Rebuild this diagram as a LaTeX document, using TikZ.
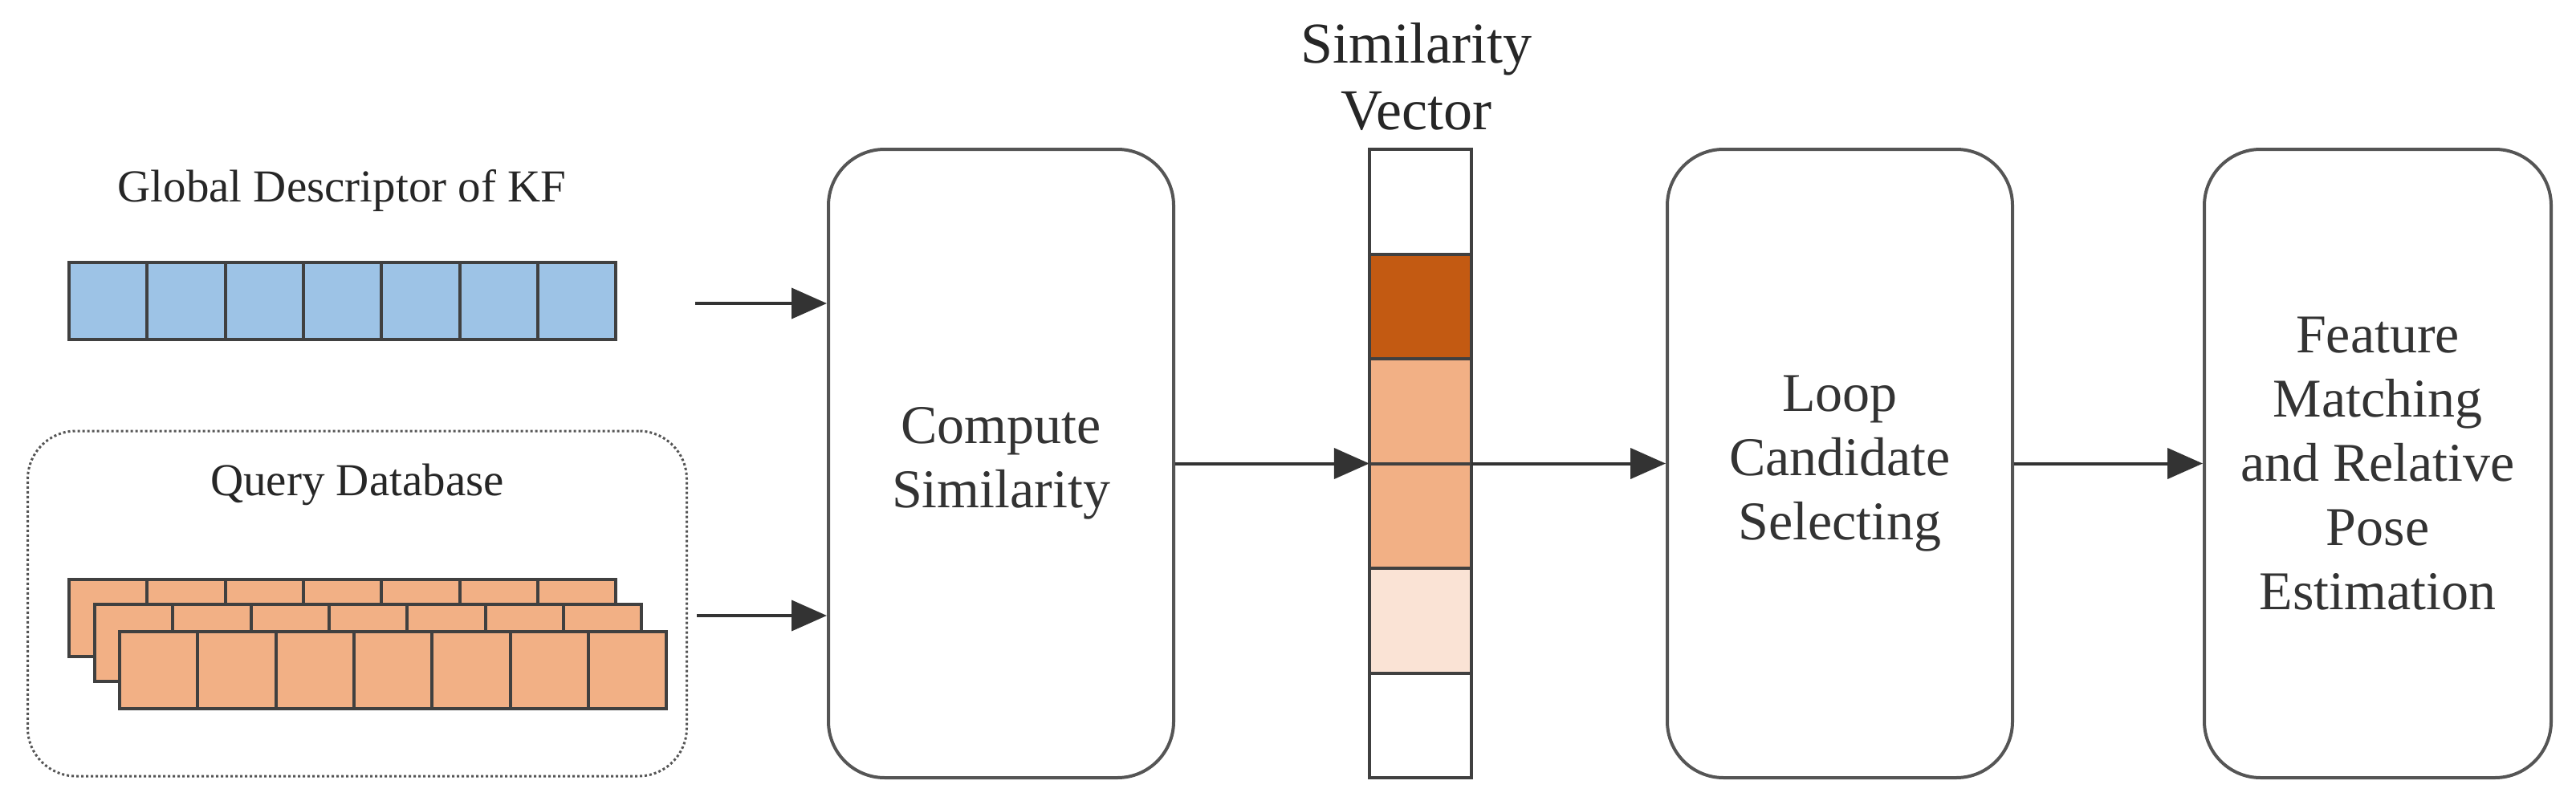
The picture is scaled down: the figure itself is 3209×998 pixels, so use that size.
\documentclass[tikz,border=0pt]{standalone}
\usepackage{fontspec}
\setmainfont{Liberation Serif}
\usetikzlibrary{arrows.meta}
\definecolor{blu}{HTML}{9DC3E6}
\definecolor{ora}{HTML}{F2B085}
\definecolor{dark}{HTML}{C35A12}
\definecolor{pale}{HTML}{FAE3D5}
\definecolor{ln}{HTML}{555555}
\begin{document}
\begin{tikzpicture}[x=1pt,y=-1pt,
 box/.style={draw=ln,line width=4pt,rounded corners=70pt,align=center,font=\fontsize{68}{80}\selectfont,text=black!80},
 cell/.style={draw=black!75,line width=4pt},
 arr/.style={draw=black!80,line width=4pt,-{Triangle[length=44pt,width=38pt]}},
 lbl/.style={font=\fontsize{57}{68}\selectfont,text=black!85}]
\useasboundingbox (0,0) rectangle (3209,998);
% global descriptor
\node[lbl] (gtxt) at (426,237) {Global Descriptor of KF};
\foreach \i in {0,...,6}{\draw[cell,fill=blu] (86+\i*97.3,327) rectangle (86+\i*97.3+97.3,423);}
\coordinate (gd) at (866,378);
% query database
\node[draw=ln,dashed,line width=3pt,rounded corners=60pt,minimum width=821pt,minimum height=430pt] (qd) at (445,752) {};
\node[lbl] (qtxt) at (445,604) {Query Database};
\foreach \dx/\dy in {0/0,32/31,63/65}{
 \foreach \i in {0,...,6}{\draw[cell,fill=ora] (86+\dx+\i*97.3,722+\dy) rectangle (86+\dx+\i*97.3+97.3,818+\dy);}}
\coordinate (qdo) at (868,767);
% boxes
\node[box,minimum width=430pt,minimum height=783pt] (cs) at (1247,577.5) {Compute\\Similarity};
\node[box,minimum width=430pt,minimum height=783pt] (lc) at (2292,577.5) {Loop\\Candidate\\Selecting};
\node[box,minimum width=432pt,minimum height=783pt] (fm) at (2962,577.5) {Feature\\Matching\\and Relative\\Pose\\Estimation};
% similarity vector
\node[align=center,font=\fontsize{72}{83}\selectfont,text=black!85] (svt) at (1764,96) {Similarity\\Vector};
\foreach \i/\c in {0/white,1/dark,2/ora,3/ora,4/pale,5/white}{\draw[cell,fill=\c] (1706,186+\i*130.5) rectangle (1833,316.5+\i*130.5);}
\node[minimum width=127pt,minimum height=783pt,inner sep=0] (sv) at (1769.5,577.5) {};
% arrows
\draw[arr] (gd) -- (gd -| cs.west);
\draw[arr] (qdo) -- (qdo -| cs.west);
\draw[arr] (cs.east) -- (sv.west);
\draw[arr] (sv.east) -- (lc.west);
\draw[arr] (lc.east) -- (fm.west);
\end{tikzpicture}
\end{document}
